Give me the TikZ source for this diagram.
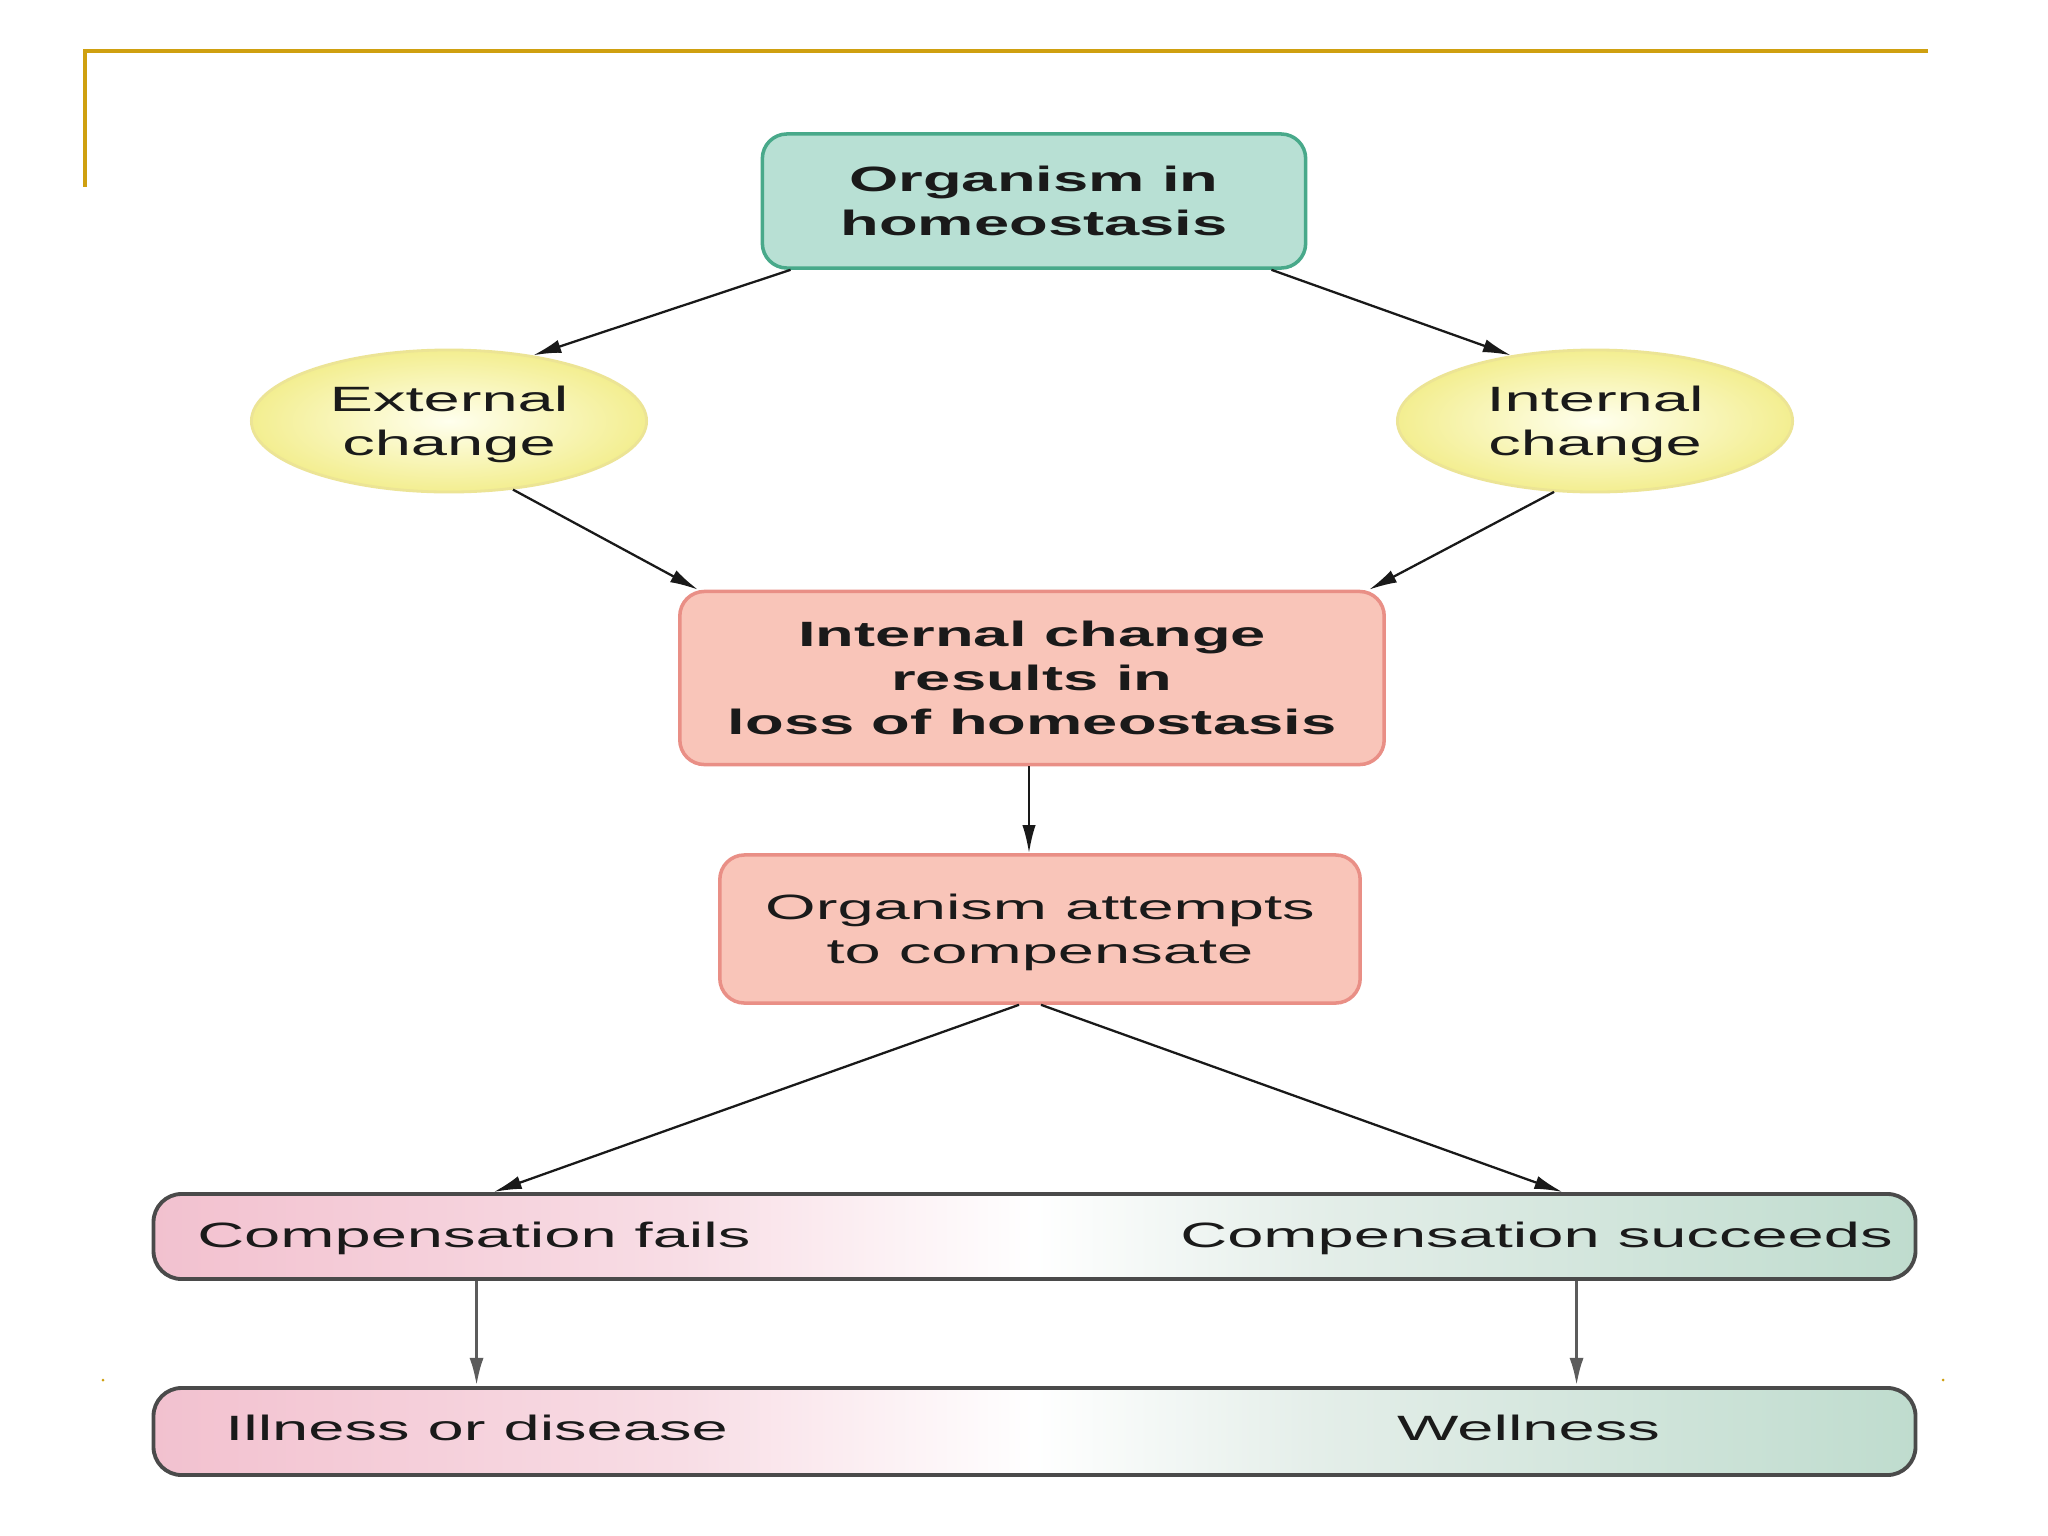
\documentclass[tikz,border=0pt]{standalone}
\usepackage{fontspec}
\setmainfont{Liberation Sans}[FakeStretch=1.85, BoldFeatures={FakeStretch=1.8}]
\usetikzlibrary{shapes.geometric,arrows.meta,calc}
\definecolor{gold}{HTML}{CFA010}
\definecolor{tealfill}{HTML}{B8E0D4}
\definecolor{tealdraw}{HTML}{48A98A}
\definecolor{salfill}{HTML}{F9C5B9}
\definecolor{saldraw}{HTML}{E98F86}
\definecolor{yelin}{HTML}{FFFFEE}
\definecolor{yelout}{HTML}{F3EE90}
\definecolor{yeldraw}{HTML}{ECE495}
\definecolor{barpink}{HTML}{F2C1CF}
\definecolor{barpinkl}{HTML}{F8DDE5}
\definecolor{bargreenl}{HTML}{E4EEE9}
\definecolor{bargreen}{HTML}{BFDCCE}
\definecolor{bardraw}{HTML}{4A4A4A}
\definecolor{txtc}{HTML}{1A1A1A}
\pgfdeclarehorizontalshading{barshade}{100bp}{color(0bp)=(barpink); color(25bp)=(barpink); color(40bp)=(barpinkl); color(50bp)=(white); color(58bp)=(bargreenl); color(75bp)=(bargreen); color(100bp)=(bargreen)}
\tikzset{
  txt/.style={font=\fontsize{10}{12.6}\selectfont, text=txtc, align=center},
  txtb/.style={font=\fontsize{10}{12.4}\selectfont\bfseries, text=txtc, align=center},
  topbox/.style={rectangle, rounded corners=7pt, fill=tealfill, draw=tealdraw, line width=1pt, inner sep=0pt},
  salbox/.style={rectangle, rounded corners=7pt, fill=salfill, draw=saldraw, line width=1pt, inner sep=0pt},
  ellip/.style={ellipse, inner color=yelin, outer color=yelout, draw=yeldraw, line width=0.8pt, inner sep=0pt, minimum width=3.95cm, minimum height=1.42cm, text depth=0pt},
  bar/.style={rectangle, rounded corners=8pt, shading=barshade, draw=bardraw, line width=1.1pt, inner sep=0pt, minimum width=17.61cm},
  conn/.style={draw=black!90, line width=0.65pt, -{Latex[length=8pt,width=3.8pt]}},
  gconn/.style={draw=bardraw!90, line width=1pt, -{Latex[length=8pt,width=4pt]}},
  bartxt/.style={txt, inner sep=0pt}
}
\begin{document}
\begin{tikzpicture}[x=0.01cm,y=-0.01cm]
\useasboundingbox[fill=white] (0,0) rectangle (2048,1536);
% frame
\draw[gold, line width=1.1pt] (1928,51) -- (85,51) -- (85,187);
\fill[gold] (103,1380) circle (1.5);
\fill[gold] (1943,1380) circle (1.5);
% nodes
\node[topbox, txtb, minimum width=5.43cm, minimum height=1.34cm] (top) at (1034,201) {Organism in\\homeostasis};
\node[ellip, txt] (ext) at (449,421) {External\\change};
\node[ellip, txt] (int) at (1595,421) {Internal\\change};
\node[salbox, txtb, minimum width=7.04cm, minimum height=1.73cm] (loss) at (1032,678) {Internal change\\results in\\loss of homeostasis};
\node[salbox, txt, minimum width=6.40cm, minimum height=1.48cm, text depth=0pt] (att) at (1040,929) {Organism attempts\\to compensate};
\node[bar, minimum height=0.85cm] (comp) at (1034.5,1236.5) {};
\node[bar, minimum height=0.87cm] (ill) at (1034.5,1431.5) {};
\node[bartxt, anchor=west] (fails) at ($(comp.west)+(45,2)$) {Compensation fails};
\node[bartxt, anchor=east] (succ) at ($(comp.east)+(-24,2)$) {Compensation succeeds};
\node[bartxt, anchor=west] (illt) at ($(ill.west)+(73,-4)$) {Illness or disease};
\node[bartxt] (well) at ($(ill.center)+(494,-4)$) {Wellness};
% connectors
\draw[conn] ($(top.south west)+(30,0)$) -- (ext.38);
\draw[conn] ($(top.south east)+(-36,0)$) -- (int.142);
\draw[conn] (ext.-47) -- ($(loss.north west)+(20,0)$);
\draw[conn] (int.-120) -- ($(loss.north east)+(-17,0)$);
\draw[conn] ($(loss.south)+(-3,0)$) -- ($(att.north)+(-11,0)$);
\draw[conn] ($(att.south)+(-21,0)$) -- ($(comp.north west)+(342,0)$);
\draw[conn] ($(att.south)+(1,0)$) -- ($(comp.north west)+(1411,0)$);
\draw[gconn] ($(comp.south west)+(325,0)$) -- ($(ill.north west)+(325,0)$);
\draw[gconn] ($(comp.south west)+(1425,0)$) -- ($(ill.north west)+(1425,0)$);
\end{tikzpicture}
\end{document}
